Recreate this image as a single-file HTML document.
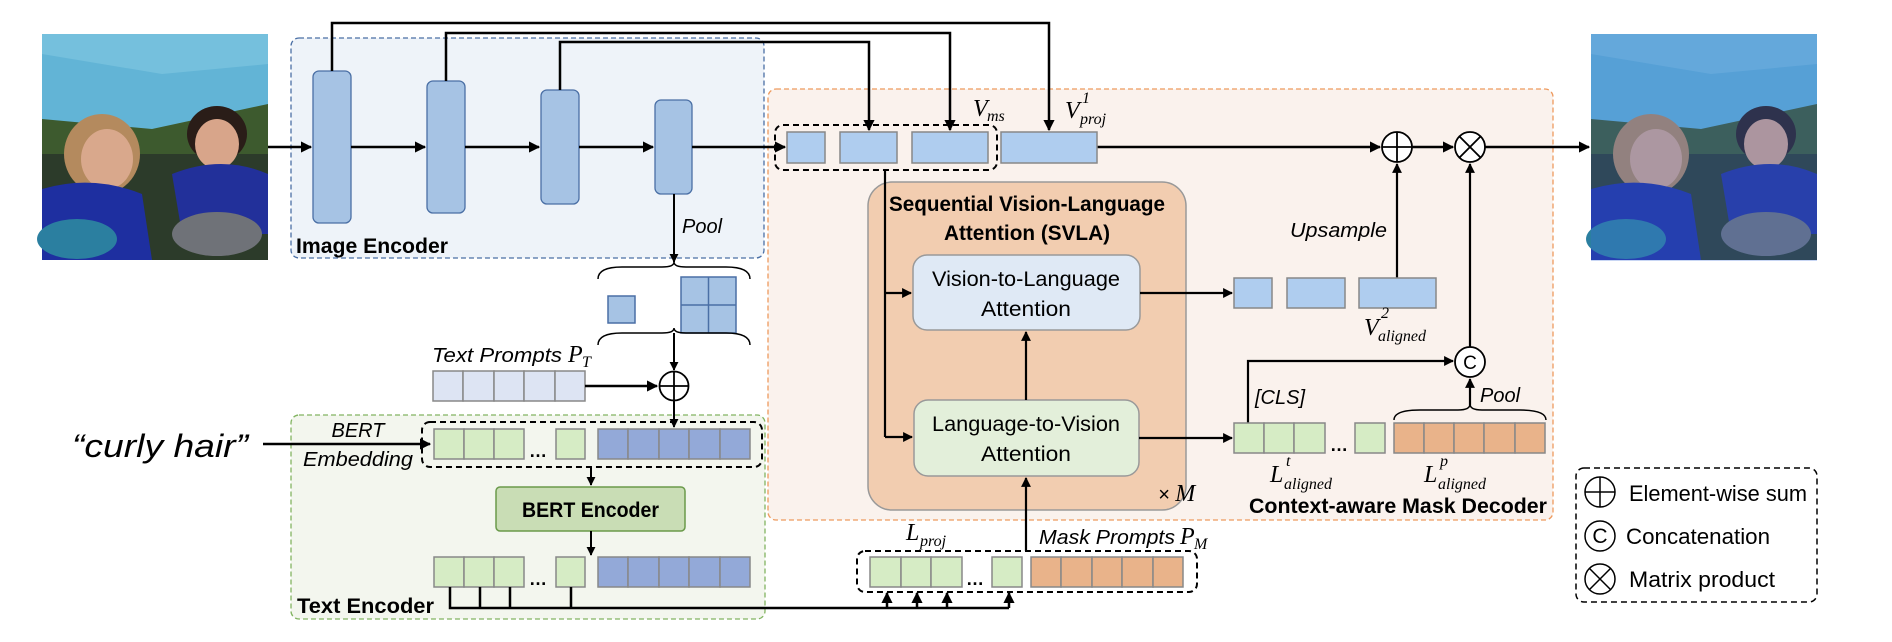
<!DOCTYPE html>
<html><head><meta charset="utf-8"><style>
html,body{margin:0;padding:0;background:#fff;}
svg{display:block;}
text{font-family:"Liberation Sans",sans-serif;fill:#000;}
.lb{font-size:20px;font-style:italic;}
.bd{font-weight:bold;font-size:21px;}
.rg{font-size:21px;}
.m{font-family:"Liberation Serif",serif;font-style:italic;font-size:24px;}
.s{font-family:"Liberation Serif",serif;font-style:italic;font-size:16px;}
</style></head><body>
<svg width="1892" height="642" viewBox="0 0 1892 642" xmlns="http://www.w3.org/2000/svg">
<defs>
<marker id="a" viewBox="0 0 10 10" refX="9" refY="5" markerWidth="4.5" markerHeight="4.5" orient="auto-start-reverse" markerUnits="strokeWidth"><path d="M0,0L10,5L0,10z" fill="#000"/></marker>
<g id="photo">
<rect x="0" y="0" width="226" height="226" fill="#3d5a2e"/>
<rect x="0" y="120" width="226" height="106" fill="#2c3b2a"/>
<path d="M0,0H226V70L110,95L0,85Z" fill="#62b4d6"/>
<path d="M0,0H226V30L120,40L0,20Z" fill="#75c0dd"/>
<ellipse cx="60" cy="120" rx="38" ry="40" fill="#b48a5e"/>
<ellipse cx="65" cy="125" rx="26" ry="30" fill="#d9a88c"/>
<ellipse cx="175" cy="100" rx="30" ry="28" fill="#2a1d18"/>
<ellipse cx="175" cy="110" rx="22" ry="25" fill="#d8a58a"/>
<path d="M0,155Q50,140 100,160L110,226H0Z" fill="#1e2fa0"/>
<path d="M130,140Q180,120 226,140V200H140Z" fill="#22309a"/>
<ellipse cx="35" cy="205" rx="40" ry="20" fill="#2b7fa0"/>
<ellipse cx="175" cy="200" rx="45" ry="22" fill="#6f7278"/>
</g>
</defs>

<use href="#photo" x="42" y="34"/>
<g transform="translate(1591,34)"><use href="#photo"/><rect width="226" height="227" fill="#3a6ad8" opacity="0.28"/></g>

<rect x="291" y="38" width="473" height="220" rx="8" fill="#eef3f9" stroke="#4a6fa5" stroke-width="1.3" stroke-dasharray="5,3"/>
<text x="296" y="253" class="bd" textLength="152" lengthAdjust="spacingAndGlyphs">Image Encoder</text>
<g fill="#a6c3e4" stroke="#4a6fa5" stroke-width="1.3">
<rect x="313" y="71" width="38" height="152" rx="6"/>
<rect x="427" y="81" width="38" height="132" rx="6"/>
<rect x="541" y="90" width="38" height="114" rx="6"/>
<rect x="655" y="100" width="37" height="94" rx="6"/>
</g>

<rect x="768" y="89" width="785" height="431" rx="8" fill="#faf2ed" stroke="#ee9a5e" stroke-width="1.3" stroke-dasharray="5,3"/>
<text x="1249" y="513" class="bd" textLength="298" lengthAdjust="spacingAndGlyphs">Context-aware Mask Decoder</text>

<rect x="291" y="415" width="474" height="204" rx="8" fill="#f3f6ee" stroke="#82b461" stroke-width="1.3" stroke-dasharray="5,3"/>
<text x="297" y="613" class="bd" textLength="137" lengthAdjust="spacingAndGlyphs">Text Encoder</text>

<g fill="none" stroke="#000" stroke-width="2.5">
<path d="M332,71V23H1049V130" marker-end="url(#a)"/>
<path d="M446,81V33H950V130" marker-end="url(#a)"/>
<path d="M560,90V42H869V130" marker-end="url(#a)"/>
<path d="M268,147H311" marker-end="url(#a)"/>
<path d="M351,147H425" marker-end="url(#a)"/>
<path d="M465,147H539" marker-end="url(#a)"/>
<path d="M579,147H653" marker-end="url(#a)"/>
<path d="M692,147H785" marker-end="url(#a)"/>
<path d="M1097,147H1380" marker-end="url(#a)"/>
<path d="M1412,147H1453" marker-end="url(#a)"/>
<path d="M1485,147H1589" marker-end="url(#a)"/>
</g>

<rect x="775" y="125" width="222" height="45" rx="8" fill="none" stroke="#000" stroke-width="2" stroke-dasharray="6,4"/>
<g fill="#afcdef" stroke="#888" stroke-width="1.5">
<rect x="787" y="132" width="38" height="31"/>
<rect x="840" y="132" width="57" height="31"/>
<rect x="912" y="132" width="76" height="31"/>
<rect x="1001" y="132" width="96" height="31"/>
</g>
<text x="973" y="116" class="m">V</text><text x="987" y="121" class="s">ms</text>
<text x="1065" y="118" class="m">V</text><text x="1080" y="124" class="s">proj</text><text x="1082" y="103" class="s" font-style="normal">1</text>

<g fill="#fff" stroke="#000" stroke-width="1.8">
<circle cx="1397" cy="147" r="15"/><path d="M1382,147H1412M1397,132V162"/>
<circle cx="1470" cy="147" r="15"/><path d="M1459.4,136.4L1480.6,157.6M1480.6,136.4L1459.4,157.6"/>
</g>

<rect x="868" y="182" width="318" height="328" rx="24" fill="#f2cdb0" stroke="#999" stroke-width="1.5"/>
<text x="1027" y="211" class="bd" text-anchor="middle" textLength="276" lengthAdjust="spacingAndGlyphs">Sequential Vision-Language</text>
<text x="1027" y="240" class="bd" text-anchor="middle" textLength="166" lengthAdjust="spacingAndGlyphs">Attention (SVLA)</text>
<text x="1158" y="501" class="lb">× <tspan class="m" font-size="22">M</tspan></text>
<rect x="913" y="255" width="227" height="75" rx="14" fill="#dfe9f5" stroke="#999" stroke-width="1.5"/>
<text x="1026" y="286" class="rg" text-anchor="middle" textLength="188" lengthAdjust="spacingAndGlyphs">Vision-to-Language</text>
<text x="1026" y="316" class="rg" text-anchor="middle" textLength="90" lengthAdjust="spacingAndGlyphs">Attention</text>
<rect x="914" y="400" width="225" height="76" rx="14" fill="#e3efda" stroke="#999" stroke-width="1.5"/>
<text x="1026" y="431" class="rg" text-anchor="middle" textLength="188" lengthAdjust="spacingAndGlyphs">Language-to-Vision</text>
<text x="1026" y="461" class="rg" text-anchor="middle" textLength="90" lengthAdjust="spacingAndGlyphs">Attention</text>
<g fill="none" stroke="#000" stroke-width="2.2">
<path d="M885,170V437"/>
<path d="M885,293H911" marker-end="url(#a)"/>
<path d="M885,437H912" marker-end="url(#a)"/>
<path d="M1026,400V332" marker-end="url(#a)"/>
<path d="M1026,551V478" marker-end="url(#a)"/>
<path d="M1140,293H1232" marker-end="url(#a)"/>
<path d="M1139,438H1232" marker-end="url(#a)"/>
<path d="M1397,278V164" marker-end="url(#a)"/>
<path d="M1470,347V164" marker-end="url(#a)"/>
<path d="M1248,423V361H1453" marker-end="url(#a)"/>
<path d="M1470,405V379" marker-end="url(#a)"/>
</g>
<g fill="#afcdef" stroke="#888" stroke-width="1.5">
<rect x="1234" y="278" width="38" height="30"/>
<rect x="1287" y="278" width="58" height="30"/>
<rect x="1359" y="278" width="77" height="30"/>
</g>
<text x="1290" y="237" class="lb" textLength="97" lengthAdjust="spacingAndGlyphs">Upsample</text>
<text x="1364" y="335" class="m">V</text><text x="1378" y="341" class="s">aligned</text><text x="1381" y="318" class="s" font-style="normal">2</text>
<circle cx="1470" cy="362" r="15" fill="#fff" stroke="#000" stroke-width="1.8"/>
<text x="1470" y="369" font-size="19" text-anchor="middle">C</text>
<text x="1255" y="404" class="lb">[CLS]</text>
<text x="1480" y="402" class="lb">Pool</text>
<path d="M1394,420Q1394,410 1420,410H1458Q1470,410 1470,404Q1470,410 1482,410H1520Q1546,410 1546,420" fill="none" stroke="#000" stroke-width="1.5"/>
<g fill="#d6ecc5" stroke="#888" stroke-width="1.5">
<rect x="1234" y="423" width="30" height="30"/><rect x="1264" y="423" width="30" height="30"/><rect x="1294" y="423" width="31" height="30"/><rect x="1355" y="423" width="30" height="30"/>
</g>
<text x="1330" y="451" font-size="18" font-weight="bold">…</text>
<g fill="#e9b38a" stroke="#888" stroke-width="1.5">
<rect x="1394" y="423" width="30" height="30"/><rect x="1424" y="423" width="30" height="30"/><rect x="1454" y="423" width="30" height="30"/><rect x="1484" y="423" width="31" height="30"/><rect x="1515" y="423" width="30" height="30"/>
</g>
<text x="1270" y="482" class="m">L</text><text x="1284" y="489" class="s">aligned</text><text x="1286" y="466" class="s">t</text>
<text x="1424" y="482" class="m">L</text><text x="1438" y="489" class="s">aligned</text><text x="1440" y="466" class="s">p</text>

<path d="M674,194V262" fill="none" stroke="#000" stroke-width="2" marker-end="url(#a)"/>
<text x="682" y="233" class="lb">Pool</text>
<path d="M598,279Q598,267 622,267H662Q674,267 674,262Q674,267 686,267H726Q750,267 750,279" fill="none" stroke="#000" stroke-width="1.5"/>
<g fill="#a6c3e4" stroke="#4a6fa5" stroke-width="1.5">
<rect x="608" y="296" width="27" height="27"/>
<rect x="681" y="277" width="55" height="56"/>
<path d="M708.5,277V333M681,305H736"/>
</g>
<path d="M598,345Q598,333 622,333H662Q674,333 674,328Q674,333 686,333H726Q750,333 750,345" fill="none" stroke="#000" stroke-width="1.5"/>
<path d="M674,333V370" fill="none" stroke="#000" stroke-width="2" marker-end="url(#a)"/>
<g fill="#fff" stroke="#000" stroke-width="1.8"><circle cx="674" cy="386" r="14.5"/><path d="M659.5,386H688.5M674,371.5V400.5"/></g>
<text x="432" y="362" class="lb" textLength="130" lengthAdjust="spacingAndGlyphs">Text Prompts</text>
<text x="568" y="362" class="m" font-size="22">P</text><text x="582" y="367" class="s">T</text>
<g fill="#dde4f3" stroke="#888" stroke-width="1.5">
<rect x="433" y="371" width="30" height="30"/><rect x="463" y="371" width="31" height="30"/><rect x="494" y="371" width="30" height="30"/><rect x="524" y="371" width="31" height="30"/><rect x="555" y="371" width="30" height="30"/>
</g>
<path d="M585,386H657" fill="none" stroke="#000" stroke-width="2.5" marker-end="url(#a)"/>
<path d="M674,400V427" fill="none" stroke="#000" stroke-width="2" marker-end="url(#a)"/>

<text x="72" y="457" font-size="32" font-style="italic" textLength="176" lengthAdjust="spacingAndGlyphs">“curly hair”</text>
<path d="M263,444H430" fill="none" stroke="#000" stroke-width="2.5" marker-end="url(#a)"/>
<text x="358" y="437" class="lb" text-anchor="middle">BERT</text>
<text x="358" y="466" class="lb" text-anchor="middle" textLength="110" lengthAdjust="spacingAndGlyphs">Embedding</text>
<rect x="422" y="422" width="340" height="45" rx="8" fill="none" stroke="#000" stroke-width="2" stroke-dasharray="6,4"/>
<g id="row">
<g fill="#d6ecc5" stroke="#888" stroke-width="1.5">
<rect x="434" y="429" width="30" height="30"/><rect x="464" y="429" width="30" height="30"/><rect x="494" y="429" width="30" height="30"/><rect x="556" y="429" width="29" height="30"/>
</g>
<text x="529" y="457" font-size="18" font-weight="bold">…</text>
<g fill="#93a9d8" stroke="#888" stroke-width="1.5">
<rect x="598" y="429" width="30" height="30"/><rect x="628" y="429" width="31" height="30"/><rect x="659" y="429" width="30" height="30"/><rect x="689" y="429" width="31" height="30"/><rect x="720" y="429" width="30" height="30"/>
</g>
</g>
<path d="M591,467V485" fill="none" stroke="#000" stroke-width="2" marker-end="url(#a)"/>
<rect x="496" y="487" width="189" height="44" rx="4" fill="#c9ddb5" stroke="#6a9a4a" stroke-width="1.5"/>
<text x="590.5" y="517" class="bd" text-anchor="middle" textLength="137" lengthAdjust="spacingAndGlyphs">BERT Encoder</text>
<path d="M591,531V555" fill="none" stroke="#000" stroke-width="2" marker-end="url(#a)"/>
<use href="#row" y="128"/>
<g fill="none" stroke="#000" stroke-width="2.5">
<path d="M450,587V608H1009M480,587V608M510,587V608M571,587V608"/>
<path d="M887,608V593" marker-end="url(#a)"/>
<path d="M917,608V593" marker-end="url(#a)"/>
<path d="M947,608V593" marker-end="url(#a)"/>
<path d="M1009,608V593" marker-end="url(#a)"/>
</g>
<rect x="857" y="551" width="340" height="41" rx="8" fill="none" stroke="#000" stroke-width="2" stroke-dasharray="6,4"/>
<g fill="#d6ecc5" stroke="#888" stroke-width="1.5">
<rect x="870" y="557" width="31" height="30"/><rect x="901" y="557" width="30" height="30"/><rect x="931" y="557" width="31" height="30"/><rect x="992" y="557" width="30" height="30"/>
</g>
<text x="966" y="585" font-size="18" font-weight="bold">…</text>
<g fill="#e9b38a" stroke="#888" stroke-width="1.5">
<rect x="1031" y="557" width="30" height="30"/><rect x="1061" y="557" width="31" height="30"/><rect x="1092" y="557" width="30" height="30"/><rect x="1122" y="557" width="31" height="30"/><rect x="1153" y="557" width="30" height="30"/>
</g>
<text x="906" y="540" class="m">L</text><text x="920" y="546" class="s">proj</text>
<text x="1039" y="544" class="lb" textLength="136" lengthAdjust="spacingAndGlyphs">Mask Prompts</text>
<text x="1180" y="544" class="m" font-size="22">P</text><text x="1194" y="549" class="s">M</text>

<rect x="1576" y="468" width="241" height="134" rx="8" fill="none" stroke="#000" stroke-width="1.5" stroke-dasharray="6,4"/>
<g fill="#fff" stroke="#000" stroke-width="1.5">
<circle cx="1600" cy="492" r="15"/><path d="M1585,492H1615M1600,477V507"/>
<circle cx="1600" cy="536" r="15"/>
<circle cx="1600" cy="579" r="15"/><path d="M1589.4,568.4L1610.6,589.6M1610.6,568.4L1589.4,589.6"/>
</g>
<text x="1600" y="543" font-size="21" text-anchor="middle">C</text>
<text x="1629" y="501" font-size="22" textLength="178" lengthAdjust="spacingAndGlyphs">Element-wise sum</text>
<text x="1626" y="544" font-size="22" textLength="144" lengthAdjust="spacingAndGlyphs">Concatenation</text>
<text x="1629" y="587" font-size="22" textLength="146" lengthAdjust="spacingAndGlyphs">Matrix product</text>
</svg>
</body></html>
